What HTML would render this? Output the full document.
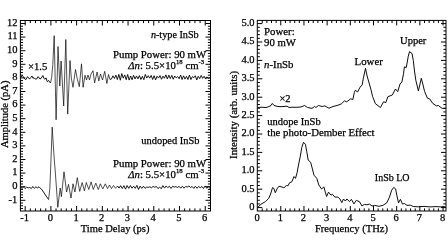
<!DOCTYPE html>
<html><head><meta charset="utf-8"><title>InSb coherent phonon plots</title>
<style>
html,body{margin:0;padding:0;background:#fff;}
body{width:448px;height:252px;overflow:hidden;}
svg{display:block;}
</style></head><body>
<svg width="448" height="252" viewBox="0 0 448 252">
<rect x="0" y="0" width="448" height="252" fill="#fff"/>
<g stroke="#000" fill="none" shape-rendering="auto">
<rect x="20.4" y="20.5" width="190.1" height="190.5" stroke-width="1"/>
<line x1="25.18" y1="211.00" x2="25.18" y2="206.00" stroke-width="1"/>
<line x1="25.18" y1="20.50" x2="25.18" y2="25.50" stroke-width="1"/>
<line x1="30.32" y1="211.00" x2="30.32" y2="208.40" stroke-width="1"/>
<line x1="30.32" y1="20.50" x2="30.32" y2="23.10" stroke-width="1"/>
<line x1="35.47" y1="211.00" x2="35.47" y2="208.40" stroke-width="1"/>
<line x1="35.47" y1="20.50" x2="35.47" y2="23.10" stroke-width="1"/>
<line x1="40.61" y1="211.00" x2="40.61" y2="208.40" stroke-width="1"/>
<line x1="40.61" y1="20.50" x2="40.61" y2="23.10" stroke-width="1"/>
<line x1="45.76" y1="211.00" x2="45.76" y2="208.40" stroke-width="1"/>
<line x1="45.76" y1="20.50" x2="45.76" y2="23.10" stroke-width="1"/>
<line x1="50.90" y1="211.00" x2="50.90" y2="206.00" stroke-width="1"/>
<line x1="50.90" y1="20.50" x2="50.90" y2="25.50" stroke-width="1"/>
<line x1="56.04" y1="211.00" x2="56.04" y2="208.40" stroke-width="1"/>
<line x1="56.04" y1="20.50" x2="56.04" y2="23.10" stroke-width="1"/>
<line x1="61.19" y1="211.00" x2="61.19" y2="208.40" stroke-width="1"/>
<line x1="61.19" y1="20.50" x2="61.19" y2="23.10" stroke-width="1"/>
<line x1="66.33" y1="211.00" x2="66.33" y2="208.40" stroke-width="1"/>
<line x1="66.33" y1="20.50" x2="66.33" y2="23.10" stroke-width="1"/>
<line x1="71.48" y1="211.00" x2="71.48" y2="208.40" stroke-width="1"/>
<line x1="71.48" y1="20.50" x2="71.48" y2="23.10" stroke-width="1"/>
<line x1="76.62" y1="211.00" x2="76.62" y2="206.00" stroke-width="1"/>
<line x1="76.62" y1="20.50" x2="76.62" y2="25.50" stroke-width="1"/>
<line x1="81.76" y1="211.00" x2="81.76" y2="208.40" stroke-width="1"/>
<line x1="81.76" y1="20.50" x2="81.76" y2="23.10" stroke-width="1"/>
<line x1="86.91" y1="211.00" x2="86.91" y2="208.40" stroke-width="1"/>
<line x1="86.91" y1="20.50" x2="86.91" y2="23.10" stroke-width="1"/>
<line x1="92.05" y1="211.00" x2="92.05" y2="208.40" stroke-width="1"/>
<line x1="92.05" y1="20.50" x2="92.05" y2="23.10" stroke-width="1"/>
<line x1="97.20" y1="211.00" x2="97.20" y2="208.40" stroke-width="1"/>
<line x1="97.20" y1="20.50" x2="97.20" y2="23.10" stroke-width="1"/>
<line x1="102.34" y1="211.00" x2="102.34" y2="206.00" stroke-width="1"/>
<line x1="102.34" y1="20.50" x2="102.34" y2="25.50" stroke-width="1"/>
<line x1="107.48" y1="211.00" x2="107.48" y2="208.40" stroke-width="1"/>
<line x1="107.48" y1="20.50" x2="107.48" y2="23.10" stroke-width="1"/>
<line x1="112.63" y1="211.00" x2="112.63" y2="208.40" stroke-width="1"/>
<line x1="112.63" y1="20.50" x2="112.63" y2="23.10" stroke-width="1"/>
<line x1="117.77" y1="211.00" x2="117.77" y2="208.40" stroke-width="1"/>
<line x1="117.77" y1="20.50" x2="117.77" y2="23.10" stroke-width="1"/>
<line x1="122.92" y1="211.00" x2="122.92" y2="208.40" stroke-width="1"/>
<line x1="122.92" y1="20.50" x2="122.92" y2="23.10" stroke-width="1"/>
<line x1="128.06" y1="211.00" x2="128.06" y2="206.00" stroke-width="1"/>
<line x1="128.06" y1="20.50" x2="128.06" y2="25.50" stroke-width="1"/>
<line x1="133.20" y1="211.00" x2="133.20" y2="208.40" stroke-width="1"/>
<line x1="133.20" y1="20.50" x2="133.20" y2="23.10" stroke-width="1"/>
<line x1="138.35" y1="211.00" x2="138.35" y2="208.40" stroke-width="1"/>
<line x1="138.35" y1="20.50" x2="138.35" y2="23.10" stroke-width="1"/>
<line x1="143.49" y1="211.00" x2="143.49" y2="208.40" stroke-width="1"/>
<line x1="143.49" y1="20.50" x2="143.49" y2="23.10" stroke-width="1"/>
<line x1="148.64" y1="211.00" x2="148.64" y2="208.40" stroke-width="1"/>
<line x1="148.64" y1="20.50" x2="148.64" y2="23.10" stroke-width="1"/>
<line x1="153.78" y1="211.00" x2="153.78" y2="206.00" stroke-width="1"/>
<line x1="153.78" y1="20.50" x2="153.78" y2="25.50" stroke-width="1"/>
<line x1="158.92" y1="211.00" x2="158.92" y2="208.40" stroke-width="1"/>
<line x1="158.92" y1="20.50" x2="158.92" y2="23.10" stroke-width="1"/>
<line x1="164.07" y1="211.00" x2="164.07" y2="208.40" stroke-width="1"/>
<line x1="164.07" y1="20.50" x2="164.07" y2="23.10" stroke-width="1"/>
<line x1="169.21" y1="211.00" x2="169.21" y2="208.40" stroke-width="1"/>
<line x1="169.21" y1="20.50" x2="169.21" y2="23.10" stroke-width="1"/>
<line x1="174.36" y1="211.00" x2="174.36" y2="208.40" stroke-width="1"/>
<line x1="174.36" y1="20.50" x2="174.36" y2="23.10" stroke-width="1"/>
<line x1="179.50" y1="211.00" x2="179.50" y2="206.00" stroke-width="1"/>
<line x1="179.50" y1="20.50" x2="179.50" y2="25.50" stroke-width="1"/>
<line x1="184.64" y1="211.00" x2="184.64" y2="208.40" stroke-width="1"/>
<line x1="184.64" y1="20.50" x2="184.64" y2="23.10" stroke-width="1"/>
<line x1="189.79" y1="211.00" x2="189.79" y2="208.40" stroke-width="1"/>
<line x1="189.79" y1="20.50" x2="189.79" y2="23.10" stroke-width="1"/>
<line x1="194.93" y1="211.00" x2="194.93" y2="208.40" stroke-width="1"/>
<line x1="194.93" y1="20.50" x2="194.93" y2="23.10" stroke-width="1"/>
<line x1="200.08" y1="211.00" x2="200.08" y2="208.40" stroke-width="1"/>
<line x1="200.08" y1="20.50" x2="200.08" y2="23.10" stroke-width="1"/>
<line x1="205.22" y1="211.00" x2="205.22" y2="206.00" stroke-width="1"/>
<line x1="205.22" y1="20.50" x2="205.22" y2="25.50" stroke-width="1"/>
<line x1="20.40" y1="208.46" x2="23.00" y2="208.46" stroke-width="1"/>
<line x1="210.50" y1="208.46" x2="207.90" y2="208.46" stroke-width="1"/>
<line x1="20.40" y1="205.74" x2="23.00" y2="205.74" stroke-width="1"/>
<line x1="210.50" y1="205.74" x2="207.90" y2="205.74" stroke-width="1"/>
<line x1="20.40" y1="203.02" x2="23.00" y2="203.02" stroke-width="1"/>
<line x1="210.50" y1="203.02" x2="207.90" y2="203.02" stroke-width="1"/>
<line x1="20.40" y1="200.30" x2="25.40" y2="200.30" stroke-width="1"/>
<line x1="210.50" y1="200.30" x2="205.50" y2="200.30" stroke-width="1"/>
<line x1="20.40" y1="197.58" x2="23.00" y2="197.58" stroke-width="1"/>
<line x1="210.50" y1="197.58" x2="207.90" y2="197.58" stroke-width="1"/>
<line x1="20.40" y1="194.86" x2="23.00" y2="194.86" stroke-width="1"/>
<line x1="210.50" y1="194.86" x2="207.90" y2="194.86" stroke-width="1"/>
<line x1="20.40" y1="192.14" x2="23.00" y2="192.14" stroke-width="1"/>
<line x1="210.50" y1="192.14" x2="207.90" y2="192.14" stroke-width="1"/>
<line x1="20.40" y1="189.42" x2="23.00" y2="189.42" stroke-width="1"/>
<line x1="210.50" y1="189.42" x2="207.90" y2="189.42" stroke-width="1"/>
<line x1="20.40" y1="186.70" x2="25.40" y2="186.70" stroke-width="1"/>
<line x1="210.50" y1="186.70" x2="205.50" y2="186.70" stroke-width="1"/>
<line x1="20.40" y1="183.98" x2="23.00" y2="183.98" stroke-width="1"/>
<line x1="210.50" y1="183.98" x2="207.90" y2="183.98" stroke-width="1"/>
<line x1="20.40" y1="181.26" x2="23.00" y2="181.26" stroke-width="1"/>
<line x1="210.50" y1="181.26" x2="207.90" y2="181.26" stroke-width="1"/>
<line x1="20.40" y1="178.54" x2="23.00" y2="178.54" stroke-width="1"/>
<line x1="210.50" y1="178.54" x2="207.90" y2="178.54" stroke-width="1"/>
<line x1="20.40" y1="175.82" x2="23.00" y2="175.82" stroke-width="1"/>
<line x1="210.50" y1="175.82" x2="207.90" y2="175.82" stroke-width="1"/>
<line x1="20.40" y1="173.10" x2="25.40" y2="173.10" stroke-width="1"/>
<line x1="210.50" y1="173.10" x2="205.50" y2="173.10" stroke-width="1"/>
<line x1="20.40" y1="170.38" x2="23.00" y2="170.38" stroke-width="1"/>
<line x1="210.50" y1="170.38" x2="207.90" y2="170.38" stroke-width="1"/>
<line x1="20.40" y1="167.66" x2="23.00" y2="167.66" stroke-width="1"/>
<line x1="210.50" y1="167.66" x2="207.90" y2="167.66" stroke-width="1"/>
<line x1="20.40" y1="164.94" x2="23.00" y2="164.94" stroke-width="1"/>
<line x1="210.50" y1="164.94" x2="207.90" y2="164.94" stroke-width="1"/>
<line x1="20.40" y1="162.22" x2="23.00" y2="162.22" stroke-width="1"/>
<line x1="210.50" y1="162.22" x2="207.90" y2="162.22" stroke-width="1"/>
<line x1="20.40" y1="159.50" x2="25.40" y2="159.50" stroke-width="1"/>
<line x1="210.50" y1="159.50" x2="205.50" y2="159.50" stroke-width="1"/>
<line x1="20.40" y1="156.78" x2="23.00" y2="156.78" stroke-width="1"/>
<line x1="210.50" y1="156.78" x2="207.90" y2="156.78" stroke-width="1"/>
<line x1="20.40" y1="154.06" x2="23.00" y2="154.06" stroke-width="1"/>
<line x1="210.50" y1="154.06" x2="207.90" y2="154.06" stroke-width="1"/>
<line x1="20.40" y1="151.34" x2="23.00" y2="151.34" stroke-width="1"/>
<line x1="210.50" y1="151.34" x2="207.90" y2="151.34" stroke-width="1"/>
<line x1="20.40" y1="148.62" x2="23.00" y2="148.62" stroke-width="1"/>
<line x1="210.50" y1="148.62" x2="207.90" y2="148.62" stroke-width="1"/>
<line x1="20.40" y1="145.90" x2="25.40" y2="145.90" stroke-width="1"/>
<line x1="210.50" y1="145.90" x2="205.50" y2="145.90" stroke-width="1"/>
<line x1="20.40" y1="143.18" x2="23.00" y2="143.18" stroke-width="1"/>
<line x1="210.50" y1="143.18" x2="207.90" y2="143.18" stroke-width="1"/>
<line x1="20.40" y1="140.46" x2="23.00" y2="140.46" stroke-width="1"/>
<line x1="210.50" y1="140.46" x2="207.90" y2="140.46" stroke-width="1"/>
<line x1="20.40" y1="137.74" x2="23.00" y2="137.74" stroke-width="1"/>
<line x1="210.50" y1="137.74" x2="207.90" y2="137.74" stroke-width="1"/>
<line x1="20.40" y1="135.02" x2="23.00" y2="135.02" stroke-width="1"/>
<line x1="210.50" y1="135.02" x2="207.90" y2="135.02" stroke-width="1"/>
<line x1="20.40" y1="132.30" x2="25.40" y2="132.30" stroke-width="1"/>
<line x1="210.50" y1="132.30" x2="205.50" y2="132.30" stroke-width="1"/>
<line x1="20.40" y1="129.58" x2="23.00" y2="129.58" stroke-width="1"/>
<line x1="210.50" y1="129.58" x2="207.90" y2="129.58" stroke-width="1"/>
<line x1="20.40" y1="126.86" x2="23.00" y2="126.86" stroke-width="1"/>
<line x1="210.50" y1="126.86" x2="207.90" y2="126.86" stroke-width="1"/>
<line x1="20.40" y1="124.14" x2="23.00" y2="124.14" stroke-width="1"/>
<line x1="210.50" y1="124.14" x2="207.90" y2="124.14" stroke-width="1"/>
<line x1="20.40" y1="121.42" x2="23.00" y2="121.42" stroke-width="1"/>
<line x1="210.50" y1="121.42" x2="207.90" y2="121.42" stroke-width="1"/>
<line x1="20.40" y1="118.70" x2="25.40" y2="118.70" stroke-width="1"/>
<line x1="210.50" y1="118.70" x2="205.50" y2="118.70" stroke-width="1"/>
<line x1="20.40" y1="115.98" x2="23.00" y2="115.98" stroke-width="1"/>
<line x1="210.50" y1="115.98" x2="207.90" y2="115.98" stroke-width="1"/>
<line x1="20.40" y1="113.26" x2="23.00" y2="113.26" stroke-width="1"/>
<line x1="210.50" y1="113.26" x2="207.90" y2="113.26" stroke-width="1"/>
<line x1="20.40" y1="110.54" x2="23.00" y2="110.54" stroke-width="1"/>
<line x1="210.50" y1="110.54" x2="207.90" y2="110.54" stroke-width="1"/>
<line x1="20.40" y1="107.82" x2="23.00" y2="107.82" stroke-width="1"/>
<line x1="210.50" y1="107.82" x2="207.90" y2="107.82" stroke-width="1"/>
<line x1="20.40" y1="105.10" x2="25.40" y2="105.10" stroke-width="1"/>
<line x1="210.50" y1="105.10" x2="205.50" y2="105.10" stroke-width="1"/>
<line x1="20.40" y1="102.38" x2="23.00" y2="102.38" stroke-width="1"/>
<line x1="210.50" y1="102.38" x2="207.90" y2="102.38" stroke-width="1"/>
<line x1="20.40" y1="99.66" x2="23.00" y2="99.66" stroke-width="1"/>
<line x1="210.50" y1="99.66" x2="207.90" y2="99.66" stroke-width="1"/>
<line x1="20.40" y1="96.94" x2="23.00" y2="96.94" stroke-width="1"/>
<line x1="210.50" y1="96.94" x2="207.90" y2="96.94" stroke-width="1"/>
<line x1="20.40" y1="94.22" x2="23.00" y2="94.22" stroke-width="1"/>
<line x1="210.50" y1="94.22" x2="207.90" y2="94.22" stroke-width="1"/>
<line x1="20.40" y1="91.50" x2="25.40" y2="91.50" stroke-width="1"/>
<line x1="210.50" y1="91.50" x2="205.50" y2="91.50" stroke-width="1"/>
<line x1="20.40" y1="88.78" x2="23.00" y2="88.78" stroke-width="1"/>
<line x1="210.50" y1="88.78" x2="207.90" y2="88.78" stroke-width="1"/>
<line x1="20.40" y1="86.06" x2="23.00" y2="86.06" stroke-width="1"/>
<line x1="210.50" y1="86.06" x2="207.90" y2="86.06" stroke-width="1"/>
<line x1="20.40" y1="83.34" x2="23.00" y2="83.34" stroke-width="1"/>
<line x1="210.50" y1="83.34" x2="207.90" y2="83.34" stroke-width="1"/>
<line x1="20.40" y1="80.62" x2="23.00" y2="80.62" stroke-width="1"/>
<line x1="210.50" y1="80.62" x2="207.90" y2="80.62" stroke-width="1"/>
<line x1="20.40" y1="77.90" x2="25.40" y2="77.90" stroke-width="1"/>
<line x1="210.50" y1="77.90" x2="205.50" y2="77.90" stroke-width="1"/>
<line x1="20.40" y1="75.18" x2="23.00" y2="75.18" stroke-width="1"/>
<line x1="210.50" y1="75.18" x2="207.90" y2="75.18" stroke-width="1"/>
<line x1="20.40" y1="72.46" x2="23.00" y2="72.46" stroke-width="1"/>
<line x1="210.50" y1="72.46" x2="207.90" y2="72.46" stroke-width="1"/>
<line x1="20.40" y1="69.74" x2="23.00" y2="69.74" stroke-width="1"/>
<line x1="210.50" y1="69.74" x2="207.90" y2="69.74" stroke-width="1"/>
<line x1="20.40" y1="67.02" x2="23.00" y2="67.02" stroke-width="1"/>
<line x1="210.50" y1="67.02" x2="207.90" y2="67.02" stroke-width="1"/>
<line x1="20.40" y1="64.30" x2="25.40" y2="64.30" stroke-width="1"/>
<line x1="210.50" y1="64.30" x2="205.50" y2="64.30" stroke-width="1"/>
<line x1="20.40" y1="61.58" x2="23.00" y2="61.58" stroke-width="1"/>
<line x1="210.50" y1="61.58" x2="207.90" y2="61.58" stroke-width="1"/>
<line x1="20.40" y1="58.86" x2="23.00" y2="58.86" stroke-width="1"/>
<line x1="210.50" y1="58.86" x2="207.90" y2="58.86" stroke-width="1"/>
<line x1="20.40" y1="56.14" x2="23.00" y2="56.14" stroke-width="1"/>
<line x1="210.50" y1="56.14" x2="207.90" y2="56.14" stroke-width="1"/>
<line x1="20.40" y1="53.42" x2="23.00" y2="53.42" stroke-width="1"/>
<line x1="210.50" y1="53.42" x2="207.90" y2="53.42" stroke-width="1"/>
<line x1="20.40" y1="50.70" x2="25.40" y2="50.70" stroke-width="1"/>
<line x1="210.50" y1="50.70" x2="205.50" y2="50.70" stroke-width="1"/>
<line x1="20.40" y1="47.98" x2="23.00" y2="47.98" stroke-width="1"/>
<line x1="210.50" y1="47.98" x2="207.90" y2="47.98" stroke-width="1"/>
<line x1="20.40" y1="45.26" x2="23.00" y2="45.26" stroke-width="1"/>
<line x1="210.50" y1="45.26" x2="207.90" y2="45.26" stroke-width="1"/>
<line x1="20.40" y1="42.54" x2="23.00" y2="42.54" stroke-width="1"/>
<line x1="210.50" y1="42.54" x2="207.90" y2="42.54" stroke-width="1"/>
<line x1="20.40" y1="39.82" x2="23.00" y2="39.82" stroke-width="1"/>
<line x1="210.50" y1="39.82" x2="207.90" y2="39.82" stroke-width="1"/>
<line x1="20.40" y1="37.10" x2="25.40" y2="37.10" stroke-width="1"/>
<line x1="210.50" y1="37.10" x2="205.50" y2="37.10" stroke-width="1"/>
<line x1="20.40" y1="34.38" x2="23.00" y2="34.38" stroke-width="1"/>
<line x1="210.50" y1="34.38" x2="207.90" y2="34.38" stroke-width="1"/>
<line x1="20.40" y1="31.66" x2="23.00" y2="31.66" stroke-width="1"/>
<line x1="210.50" y1="31.66" x2="207.90" y2="31.66" stroke-width="1"/>
<line x1="20.40" y1="28.94" x2="23.00" y2="28.94" stroke-width="1"/>
<line x1="210.50" y1="28.94" x2="207.90" y2="28.94" stroke-width="1"/>
<line x1="20.40" y1="26.22" x2="23.00" y2="26.22" stroke-width="1"/>
<line x1="210.50" y1="26.22" x2="207.90" y2="26.22" stroke-width="1"/>
<line x1="20.40" y1="23.50" x2="25.40" y2="23.50" stroke-width="1"/>
<line x1="210.50" y1="23.50" x2="205.50" y2="23.50" stroke-width="1"/>
</g>
<g stroke="#000" fill="none">
<rect x="257.3" y="20.4" width="188.7" height="190.6" stroke-width="1"/>
<line x1="262.24" y1="211.00" x2="262.24" y2="208.40" stroke-width="1"/>
<line x1="262.24" y1="20.40" x2="262.24" y2="23.00" stroke-width="1"/>
<line x1="266.87" y1="211.00" x2="266.87" y2="208.40" stroke-width="1"/>
<line x1="266.87" y1="20.40" x2="266.87" y2="23.00" stroke-width="1"/>
<line x1="271.51" y1="211.00" x2="271.51" y2="208.40" stroke-width="1"/>
<line x1="271.51" y1="20.40" x2="271.51" y2="23.00" stroke-width="1"/>
<line x1="276.14" y1="211.00" x2="276.14" y2="208.40" stroke-width="1"/>
<line x1="276.14" y1="20.40" x2="276.14" y2="23.00" stroke-width="1"/>
<line x1="280.78" y1="211.00" x2="280.78" y2="206.00" stroke-width="1"/>
<line x1="280.78" y1="20.40" x2="280.78" y2="25.40" stroke-width="1"/>
<line x1="285.42" y1="211.00" x2="285.42" y2="208.40" stroke-width="1"/>
<line x1="285.42" y1="20.40" x2="285.42" y2="23.00" stroke-width="1"/>
<line x1="290.05" y1="211.00" x2="290.05" y2="208.40" stroke-width="1"/>
<line x1="290.05" y1="20.40" x2="290.05" y2="23.00" stroke-width="1"/>
<line x1="294.69" y1="211.00" x2="294.69" y2="208.40" stroke-width="1"/>
<line x1="294.69" y1="20.40" x2="294.69" y2="23.00" stroke-width="1"/>
<line x1="299.32" y1="211.00" x2="299.32" y2="208.40" stroke-width="1"/>
<line x1="299.32" y1="20.40" x2="299.32" y2="23.00" stroke-width="1"/>
<line x1="303.96" y1="211.00" x2="303.96" y2="206.00" stroke-width="1"/>
<line x1="303.96" y1="20.40" x2="303.96" y2="25.40" stroke-width="1"/>
<line x1="308.60" y1="211.00" x2="308.60" y2="208.40" stroke-width="1"/>
<line x1="308.60" y1="20.40" x2="308.60" y2="23.00" stroke-width="1"/>
<line x1="313.23" y1="211.00" x2="313.23" y2="208.40" stroke-width="1"/>
<line x1="313.23" y1="20.40" x2="313.23" y2="23.00" stroke-width="1"/>
<line x1="317.87" y1="211.00" x2="317.87" y2="208.40" stroke-width="1"/>
<line x1="317.87" y1="20.40" x2="317.87" y2="23.00" stroke-width="1"/>
<line x1="322.50" y1="211.00" x2="322.50" y2="208.40" stroke-width="1"/>
<line x1="322.50" y1="20.40" x2="322.50" y2="23.00" stroke-width="1"/>
<line x1="327.14" y1="211.00" x2="327.14" y2="206.00" stroke-width="1"/>
<line x1="327.14" y1="20.40" x2="327.14" y2="25.40" stroke-width="1"/>
<line x1="331.78" y1="211.00" x2="331.78" y2="208.40" stroke-width="1"/>
<line x1="331.78" y1="20.40" x2="331.78" y2="23.00" stroke-width="1"/>
<line x1="336.41" y1="211.00" x2="336.41" y2="208.40" stroke-width="1"/>
<line x1="336.41" y1="20.40" x2="336.41" y2="23.00" stroke-width="1"/>
<line x1="341.05" y1="211.00" x2="341.05" y2="208.40" stroke-width="1"/>
<line x1="341.05" y1="20.40" x2="341.05" y2="23.00" stroke-width="1"/>
<line x1="345.68" y1="211.00" x2="345.68" y2="208.40" stroke-width="1"/>
<line x1="345.68" y1="20.40" x2="345.68" y2="23.00" stroke-width="1"/>
<line x1="350.32" y1="211.00" x2="350.32" y2="206.00" stroke-width="1"/>
<line x1="350.32" y1="20.40" x2="350.32" y2="25.40" stroke-width="1"/>
<line x1="354.96" y1="211.00" x2="354.96" y2="208.40" stroke-width="1"/>
<line x1="354.96" y1="20.40" x2="354.96" y2="23.00" stroke-width="1"/>
<line x1="359.59" y1="211.00" x2="359.59" y2="208.40" stroke-width="1"/>
<line x1="359.59" y1="20.40" x2="359.59" y2="23.00" stroke-width="1"/>
<line x1="364.23" y1="211.00" x2="364.23" y2="208.40" stroke-width="1"/>
<line x1="364.23" y1="20.40" x2="364.23" y2="23.00" stroke-width="1"/>
<line x1="368.86" y1="211.00" x2="368.86" y2="208.40" stroke-width="1"/>
<line x1="368.86" y1="20.40" x2="368.86" y2="23.00" stroke-width="1"/>
<line x1="373.50" y1="211.00" x2="373.50" y2="206.00" stroke-width="1"/>
<line x1="373.50" y1="20.40" x2="373.50" y2="25.40" stroke-width="1"/>
<line x1="378.14" y1="211.00" x2="378.14" y2="208.40" stroke-width="1"/>
<line x1="378.14" y1="20.40" x2="378.14" y2="23.00" stroke-width="1"/>
<line x1="382.77" y1="211.00" x2="382.77" y2="208.40" stroke-width="1"/>
<line x1="382.77" y1="20.40" x2="382.77" y2="23.00" stroke-width="1"/>
<line x1="387.41" y1="211.00" x2="387.41" y2="208.40" stroke-width="1"/>
<line x1="387.41" y1="20.40" x2="387.41" y2="23.00" stroke-width="1"/>
<line x1="392.04" y1="211.00" x2="392.04" y2="208.40" stroke-width="1"/>
<line x1="392.04" y1="20.40" x2="392.04" y2="23.00" stroke-width="1"/>
<line x1="396.68" y1="211.00" x2="396.68" y2="206.00" stroke-width="1"/>
<line x1="396.68" y1="20.40" x2="396.68" y2="25.40" stroke-width="1"/>
<line x1="401.32" y1="211.00" x2="401.32" y2="208.40" stroke-width="1"/>
<line x1="401.32" y1="20.40" x2="401.32" y2="23.00" stroke-width="1"/>
<line x1="405.95" y1="211.00" x2="405.95" y2="208.40" stroke-width="1"/>
<line x1="405.95" y1="20.40" x2="405.95" y2="23.00" stroke-width="1"/>
<line x1="410.59" y1="211.00" x2="410.59" y2="208.40" stroke-width="1"/>
<line x1="410.59" y1="20.40" x2="410.59" y2="23.00" stroke-width="1"/>
<line x1="415.22" y1="211.00" x2="415.22" y2="208.40" stroke-width="1"/>
<line x1="415.22" y1="20.40" x2="415.22" y2="23.00" stroke-width="1"/>
<line x1="419.86" y1="211.00" x2="419.86" y2="206.00" stroke-width="1"/>
<line x1="419.86" y1="20.40" x2="419.86" y2="25.40" stroke-width="1"/>
<line x1="424.50" y1="211.00" x2="424.50" y2="208.40" stroke-width="1"/>
<line x1="424.50" y1="20.40" x2="424.50" y2="23.00" stroke-width="1"/>
<line x1="429.13" y1="211.00" x2="429.13" y2="208.40" stroke-width="1"/>
<line x1="429.13" y1="20.40" x2="429.13" y2="23.00" stroke-width="1"/>
<line x1="433.77" y1="211.00" x2="433.77" y2="208.40" stroke-width="1"/>
<line x1="433.77" y1="20.40" x2="433.77" y2="23.00" stroke-width="1"/>
<line x1="438.40" y1="211.00" x2="438.40" y2="208.40" stroke-width="1"/>
<line x1="438.40" y1="20.40" x2="438.40" y2="23.00" stroke-width="1"/>
<line x1="443.04" y1="211.00" x2="443.04" y2="206.00" stroke-width="1"/>
<line x1="443.04" y1="20.40" x2="443.04" y2="25.40" stroke-width="1"/>
<line x1="257.30" y1="207.60" x2="262.30" y2="207.60" stroke-width="1"/>
<line x1="446.00" y1="207.60" x2="441.00" y2="207.60" stroke-width="1"/>
<line x1="257.30" y1="203.92" x2="259.90" y2="203.92" stroke-width="1"/>
<line x1="446.00" y1="203.92" x2="443.40" y2="203.92" stroke-width="1"/>
<line x1="257.30" y1="200.24" x2="259.90" y2="200.24" stroke-width="1"/>
<line x1="446.00" y1="200.24" x2="443.40" y2="200.24" stroke-width="1"/>
<line x1="257.30" y1="196.56" x2="259.90" y2="196.56" stroke-width="1"/>
<line x1="446.00" y1="196.56" x2="443.40" y2="196.56" stroke-width="1"/>
<line x1="257.30" y1="192.88" x2="259.90" y2="192.88" stroke-width="1"/>
<line x1="446.00" y1="192.88" x2="443.40" y2="192.88" stroke-width="1"/>
<line x1="257.30" y1="189.20" x2="262.30" y2="189.20" stroke-width="1"/>
<line x1="446.00" y1="189.20" x2="441.00" y2="189.20" stroke-width="1"/>
<line x1="257.30" y1="185.52" x2="259.90" y2="185.52" stroke-width="1"/>
<line x1="446.00" y1="185.52" x2="443.40" y2="185.52" stroke-width="1"/>
<line x1="257.30" y1="181.84" x2="259.90" y2="181.84" stroke-width="1"/>
<line x1="446.00" y1="181.84" x2="443.40" y2="181.84" stroke-width="1"/>
<line x1="257.30" y1="178.16" x2="259.90" y2="178.16" stroke-width="1"/>
<line x1="446.00" y1="178.16" x2="443.40" y2="178.16" stroke-width="1"/>
<line x1="257.30" y1="174.48" x2="259.90" y2="174.48" stroke-width="1"/>
<line x1="446.00" y1="174.48" x2="443.40" y2="174.48" stroke-width="1"/>
<line x1="257.30" y1="170.80" x2="262.30" y2="170.80" stroke-width="1"/>
<line x1="446.00" y1="170.80" x2="441.00" y2="170.80" stroke-width="1"/>
<line x1="257.30" y1="167.12" x2="259.90" y2="167.12" stroke-width="1"/>
<line x1="446.00" y1="167.12" x2="443.40" y2="167.12" stroke-width="1"/>
<line x1="257.30" y1="163.44" x2="259.90" y2="163.44" stroke-width="1"/>
<line x1="446.00" y1="163.44" x2="443.40" y2="163.44" stroke-width="1"/>
<line x1="257.30" y1="159.76" x2="259.90" y2="159.76" stroke-width="1"/>
<line x1="446.00" y1="159.76" x2="443.40" y2="159.76" stroke-width="1"/>
<line x1="257.30" y1="156.08" x2="259.90" y2="156.08" stroke-width="1"/>
<line x1="446.00" y1="156.08" x2="443.40" y2="156.08" stroke-width="1"/>
<line x1="257.30" y1="152.40" x2="262.30" y2="152.40" stroke-width="1"/>
<line x1="446.00" y1="152.40" x2="441.00" y2="152.40" stroke-width="1"/>
<line x1="257.30" y1="148.72" x2="259.90" y2="148.72" stroke-width="1"/>
<line x1="446.00" y1="148.72" x2="443.40" y2="148.72" stroke-width="1"/>
<line x1="257.30" y1="145.04" x2="259.90" y2="145.04" stroke-width="1"/>
<line x1="446.00" y1="145.04" x2="443.40" y2="145.04" stroke-width="1"/>
<line x1="257.30" y1="141.36" x2="259.90" y2="141.36" stroke-width="1"/>
<line x1="446.00" y1="141.36" x2="443.40" y2="141.36" stroke-width="1"/>
<line x1="257.30" y1="137.68" x2="259.90" y2="137.68" stroke-width="1"/>
<line x1="446.00" y1="137.68" x2="443.40" y2="137.68" stroke-width="1"/>
<line x1="257.30" y1="134.00" x2="262.30" y2="134.00" stroke-width="1"/>
<line x1="446.00" y1="134.00" x2="441.00" y2="134.00" stroke-width="1"/>
<line x1="257.30" y1="130.32" x2="259.90" y2="130.32" stroke-width="1"/>
<line x1="446.00" y1="130.32" x2="443.40" y2="130.32" stroke-width="1"/>
<line x1="257.30" y1="126.64" x2="259.90" y2="126.64" stroke-width="1"/>
<line x1="446.00" y1="126.64" x2="443.40" y2="126.64" stroke-width="1"/>
<line x1="257.30" y1="122.96" x2="259.90" y2="122.96" stroke-width="1"/>
<line x1="446.00" y1="122.96" x2="443.40" y2="122.96" stroke-width="1"/>
<line x1="257.30" y1="119.28" x2="259.90" y2="119.28" stroke-width="1"/>
<line x1="446.00" y1="119.28" x2="443.40" y2="119.28" stroke-width="1"/>
<line x1="257.30" y1="115.60" x2="262.30" y2="115.60" stroke-width="1"/>
<line x1="446.00" y1="115.60" x2="441.00" y2="115.60" stroke-width="1"/>
<line x1="257.30" y1="111.92" x2="259.90" y2="111.92" stroke-width="1"/>
<line x1="446.00" y1="111.92" x2="443.40" y2="111.92" stroke-width="1"/>
<line x1="257.30" y1="108.24" x2="259.90" y2="108.24" stroke-width="1"/>
<line x1="446.00" y1="108.24" x2="443.40" y2="108.24" stroke-width="1"/>
<line x1="257.30" y1="104.56" x2="259.90" y2="104.56" stroke-width="1"/>
<line x1="446.00" y1="104.56" x2="443.40" y2="104.56" stroke-width="1"/>
<line x1="257.30" y1="100.88" x2="259.90" y2="100.88" stroke-width="1"/>
<line x1="446.00" y1="100.88" x2="443.40" y2="100.88" stroke-width="1"/>
<line x1="257.30" y1="97.20" x2="262.30" y2="97.20" stroke-width="1"/>
<line x1="446.00" y1="97.20" x2="441.00" y2="97.20" stroke-width="1"/>
<line x1="257.30" y1="93.52" x2="259.90" y2="93.52" stroke-width="1"/>
<line x1="446.00" y1="93.52" x2="443.40" y2="93.52" stroke-width="1"/>
<line x1="257.30" y1="89.84" x2="259.90" y2="89.84" stroke-width="1"/>
<line x1="446.00" y1="89.84" x2="443.40" y2="89.84" stroke-width="1"/>
<line x1="257.30" y1="86.16" x2="259.90" y2="86.16" stroke-width="1"/>
<line x1="446.00" y1="86.16" x2="443.40" y2="86.16" stroke-width="1"/>
<line x1="257.30" y1="82.48" x2="259.90" y2="82.48" stroke-width="1"/>
<line x1="446.00" y1="82.48" x2="443.40" y2="82.48" stroke-width="1"/>
<line x1="257.30" y1="78.80" x2="262.30" y2="78.80" stroke-width="1"/>
<line x1="446.00" y1="78.80" x2="441.00" y2="78.80" stroke-width="1"/>
<line x1="257.30" y1="75.12" x2="259.90" y2="75.12" stroke-width="1"/>
<line x1="446.00" y1="75.12" x2="443.40" y2="75.12" stroke-width="1"/>
<line x1="257.30" y1="71.44" x2="259.90" y2="71.44" stroke-width="1"/>
<line x1="446.00" y1="71.44" x2="443.40" y2="71.44" stroke-width="1"/>
<line x1="257.30" y1="67.76" x2="259.90" y2="67.76" stroke-width="1"/>
<line x1="446.00" y1="67.76" x2="443.40" y2="67.76" stroke-width="1"/>
<line x1="257.30" y1="64.08" x2="259.90" y2="64.08" stroke-width="1"/>
<line x1="446.00" y1="64.08" x2="443.40" y2="64.08" stroke-width="1"/>
<line x1="257.30" y1="60.40" x2="262.30" y2="60.40" stroke-width="1"/>
<line x1="446.00" y1="60.40" x2="441.00" y2="60.40" stroke-width="1"/>
<line x1="257.30" y1="56.72" x2="259.90" y2="56.72" stroke-width="1"/>
<line x1="446.00" y1="56.72" x2="443.40" y2="56.72" stroke-width="1"/>
<line x1="257.30" y1="53.04" x2="259.90" y2="53.04" stroke-width="1"/>
<line x1="446.00" y1="53.04" x2="443.40" y2="53.04" stroke-width="1"/>
<line x1="257.30" y1="49.36" x2="259.90" y2="49.36" stroke-width="1"/>
<line x1="446.00" y1="49.36" x2="443.40" y2="49.36" stroke-width="1"/>
<line x1="257.30" y1="45.68" x2="259.90" y2="45.68" stroke-width="1"/>
<line x1="446.00" y1="45.68" x2="443.40" y2="45.68" stroke-width="1"/>
<line x1="257.30" y1="42.00" x2="262.30" y2="42.00" stroke-width="1"/>
<line x1="446.00" y1="42.00" x2="441.00" y2="42.00" stroke-width="1"/>
<line x1="257.30" y1="38.32" x2="259.90" y2="38.32" stroke-width="1"/>
<line x1="446.00" y1="38.32" x2="443.40" y2="38.32" stroke-width="1"/>
<line x1="257.30" y1="34.64" x2="259.90" y2="34.64" stroke-width="1"/>
<line x1="446.00" y1="34.64" x2="443.40" y2="34.64" stroke-width="1"/>
<line x1="257.30" y1="30.96" x2="259.90" y2="30.96" stroke-width="1"/>
<line x1="446.00" y1="30.96" x2="443.40" y2="30.96" stroke-width="1"/>
<line x1="257.30" y1="27.28" x2="259.90" y2="27.28" stroke-width="1"/>
<line x1="446.00" y1="27.28" x2="443.40" y2="27.28" stroke-width="1"/>
<line x1="257.30" y1="23.60" x2="262.30" y2="23.60" stroke-width="1"/>
<line x1="446.00" y1="23.60" x2="441.00" y2="23.60" stroke-width="1"/>
</g>
<polyline points="21.00,77.00 22.50,75.60 24.00,78.00 25.70,79.80 27.60,76.60 29.50,79.10 30.80,77.50 32.00,76.00 33.00,78.30 34.00,77.60 35.20,79.00 36.50,79.10 37.80,76.80 39.00,77.40 40.00,79.00 41.00,78.50 42.90,75.50 43.80,78.00 44.80,79.30 46.00,77.90 47.30,81.70 48.60,80.40 49.60,82.00 50.50,83.00" fill="none" stroke="#000" stroke-width="0.9" stroke-linejoin="round"/>
<polyline points="50.50,83.00 51.70,77.20 52.80,64.50 54.20,35.70 56.10,119.80 58.00,46.50 59.80,86.00 61.10,61.00 63.70,106.00 65.80,39.50 67.70,114.10 70.00,60.50 71.30,78.00 73.00,87.30 75.50,69.50 77.30,79.00 79.30,86.70 81.50,63.80 83.10,87.30 85.00,75.20 86.50,80.00 88.00,75.00 89.50,80.00 91.00,74.00 93.00,70.80 94.60,82.90 97.10,72.00 98.80,81.00 100.50,74.00 102.50,80.00 104.70,71.40 106.90,83.50 108.50,74.50 110.00,79.50" fill="none" stroke="#000" stroke-width="0.68" stroke-linejoin="round"/>
<polyline points="110.00,79.50 111.50,78.94 112.97,75.80 114.44,78.45 115.91,75.16 117.38,79.51 118.85,74.38 120.32,80.23 121.79,73.58 123.26,78.19 124.73,74.91 126.20,79.69 127.67,74.47 129.14,80.09 130.61,75.97 132.08,79.75 133.55,75.27 135.02,78.95 136.49,75.95 137.96,78.80 139.43,75.60 140.90,79.49 142.37,76.36 143.84,79.66 145.31,74.42 146.78,78.03 148.25,75.72 149.72,78.12 151.19,75.40 152.66,79.50 154.13,75.75 155.60,79.87 157.07,76.23 158.54,78.08 160.01,75.56 161.49,79.28 162.96,76.15 164.43,78.25 165.90,74.87 167.37,79.01 168.84,75.13 170.31,78.62 171.78,75.42 173.25,79.24 174.72,76.00 176.19,77.84 177.66,76.47 179.13,78.84 180.60,75.03 182.07,79.53 183.54,75.82 185.01,79.12 186.48,76.31 187.95,79.50 189.42,75.03 190.89,79.56 192.36,76.57 193.83,77.72 195.30,75.72 196.77,79.92 198.24,76.32 199.71,78.65 201.18,75.46 202.65,78.35 204.12,76.29 205.59,79.04 207.06,76.89 208.53,78.54 210.00,77.64" fill="none" stroke="#000" stroke-width="0.9" stroke-linejoin="round"/>
<polyline points="20.80,186.80 22.00,188.53 23.55,186.85 25.09,188.57 26.64,187.19 28.18,187.92 29.73,187.41 31.27,188.59 32.82,186.48 34.36,188.30 35.91,186.77 37.45,187.99 39.00,186.75 42.20,190.00 45.40,195.00 48.60,199.50" fill="none" stroke="#000" stroke-width="0.9" stroke-linejoin="round"/>
<polyline points="48.60,199.50 49.80,188.70 50.60,170.00 52.20,127.10 53.30,145.00 54.30,160.00 55.30,172.00 56.30,186.00 57.80,207.30 60.20,188.00 61.40,196.70 64.00,171.80 66.60,192.00 68.50,184.40 71.00,198.00 73.00,183.80 74.90,192.00 77.30,177.70 79.70,191.40 82.20,182.50 84.40,190.80 86.30,182.50 88.80,189.50 91.10,181.90 93.30,189.50 95.80,183.10 98.30,189.50 100.30,183.80 102.80,188.90 105.30,183.80 107.50,188.60 109.50,185.00 111.50,188.50 113.50,185.50 115.50,188.30 117.50,186.00" fill="none" stroke="#000" stroke-width="0.68" stroke-linejoin="round"/>
<polyline points="117.50,186.00 119.00,188.09 120.62,185.62 122.25,188.52 123.88,185.67 125.50,189.14 127.12,185.54 128.75,188.38 130.38,185.50 132.00,188.21 133.62,186.21 135.25,188.38 136.88,185.40 138.50,189.48 140.12,186.16 141.75,188.35 143.38,186.26 145.00,188.34 146.62,187.15 148.25,187.33 149.88,186.84 151.50,187.78 153.12,186.43 154.75,187.24 156.38,186.48 158.00,188.58 159.62,187.04 161.25,188.70 162.88,185.65 164.50,188.08 166.12,185.93 167.75,187.60 169.38,186.26 171.00,188.42 172.62,186.28 174.25,187.09 175.88,186.66 177.50,187.43 179.12,186.38 180.75,188.18 182.38,186.24 184.00,188.18 185.62,186.47 187.25,187.09 188.88,185.94 190.50,187.48 192.12,186.45 193.75,188.38 195.38,186.24 197.00,188.29 198.62,186.43 200.25,187.74 201.88,186.46 203.50,188.51 205.12,185.95 206.75,188.31 208.38,186.43 210.00,188.72" fill="none" stroke="#000" stroke-width="0.9" stroke-linejoin="round"/>
<polyline points="258.00,107.50 262.00,107.20 266.00,107.60 269.00,106.50 271.00,105.50 272.30,103.40 274.00,105.50 277.00,106.30 280.00,106.70 284.00,106.50 287.00,106.20 289.00,107.50 292.00,107.20 296.00,107.30 300.00,107.10 302.00,106.60 304.40,105.50 307.60,107.50 312.00,108.40 314.60,106.50 315.90,107.50 318.40,105.50 322.20,106.50 324.80,105.90 329.00,108.20 333.00,106.50 338.00,105.20 341.30,103.90 344.40,100.90 346.70,101.80 350.70,98.80 352.90,99.50 354.30,92.50 355.30,90.30 357.60,91.90 360.10,87.20 362.20,84.80 363.30,78.50 365.50,68.30 367.10,76.00 369.40,84.00 370.90,89.30 372.60,96.50 375.40,103.70 380.40,107.50 383.60,101.80 385.80,102.60 387.90,96.70 392.30,95.00 395.50,89.00 397.70,91.60 400.00,84.00 401.90,82.00 403.50,73.80 404.40,66.90 406.30,67.50 408.20,56.70 409.50,51.60 412.00,53.50 413.30,60.50 414.50,71.00 415.80,80.20 418.40,91.00 421.30,78.30 422.80,84.00 424.60,91.50 427.40,98.10 429.60,98.80 432.60,103.30 436.40,105.90 438.30,105.50 442.20,108.40 445.50,108.40" fill="none" stroke="#000" stroke-width="0.95" stroke-linejoin="round"/>
<polyline points="257.90,207.30 261.10,204.10 265.50,201.60 268.70,198.40 270.60,194.00 272.50,187.60 273.80,188.30 275.30,192.70 277.00,188.90 278.90,186.30 282.00,187.00 283.90,187.80 286.40,185.50 288.00,185.80 289.60,182.70 291.80,181.80 294.00,176.50 295.50,178.40 297.10,172.70 298.30,166.00 300.30,156.30 301.80,147.40 303.50,142.30 305.40,144.30 306.70,151.20 308.20,160.10 310.60,162.20 312.40,168.90 314.00,175.20 316.80,178.40 318.80,185.00 321.60,189.00 323.90,186.90 325.30,192.10 326.60,196.50 328.50,192.10 331.00,195.20 332.30,194.20 334.90,197.10 338.00,197.10 339.90,199.00 341.80,202.60 343.50,199.00 345.30,201.00 346.90,199.00 349.50,201.60 351.40,199.30 353.90,203.90 356.40,200.30 359.60,201.80 362.00,206.00 364.40,204.40 367.00,204.80 369.50,204.10 372.00,206.00 374.60,205.40 379.00,206.30 382.90,205.40 386.70,202.90 389.20,197.80 391.70,190.20 393.70,187.40 395.60,188.90 396.80,195.20 398.50,202.90 400.40,199.30 402.50,204.10 404.40,203.50 407.00,205.40 410.20,205.10 413.30,206.50 418.00,206.80 424.00,206.40 430.00,206.90 436.00,206.60 441.00,206.90 445.50,206.70" fill="none" stroke="#000" stroke-width="0.95" stroke-linejoin="round"/>
<g font-family='"Liberation Serif","Times New Roman",serif' font-size="10.5" fill="#000" stroke="#000" stroke-width="0.25">
<text x="17.30" y="202.50" text-anchor="end">-1</text>
<text x="17.60" y="188.90" text-anchor="end">0</text>
<text x="17.60" y="175.30" text-anchor="end">1</text>
<text x="17.60" y="161.70" text-anchor="end">2</text>
<text x="17.60" y="148.10" text-anchor="end">3</text>
<text x="17.60" y="134.50" text-anchor="end">4</text>
<text x="17.60" y="120.90" text-anchor="end">5</text>
<text x="17.60" y="107.30" text-anchor="end">6</text>
<text x="17.60" y="93.70" text-anchor="end">7</text>
<text x="17.60" y="80.10" text-anchor="end">8</text>
<text x="17.60" y="66.50" text-anchor="end">9</text>
<text x="17.60" y="52.90" text-anchor="end">10</text>
<text x="17.60" y="39.30" text-anchor="end">11</text>
<text x="17.60" y="25.70" text-anchor="end">12</text>
<text x="24.58" y="220.60" text-anchor="middle">-1</text>
<text x="50.30" y="220.60" text-anchor="middle">0</text>
<text x="76.02" y="220.60" text-anchor="middle">1</text>
<text x="101.74" y="220.60" text-anchor="middle">2</text>
<text x="127.46" y="220.60" text-anchor="middle">3</text>
<text x="153.18" y="220.60" text-anchor="middle">4</text>
<text x="178.90" y="220.60" text-anchor="middle">5</text>
<text x="204.62" y="220.60" text-anchor="middle">6</text>
<text x="115.10" y="231.80" text-anchor="middle" textLength="68.8" lengthAdjust="spacingAndGlyphs">Time Delay (ps)</text>
<text transform="translate(8.4,114.3) rotate(-90)" text-anchor="middle">Amplitude (pA)</text>
<text x="27.90" y="69.80" text-anchor="start" textLength="19.4" lengthAdjust="spacingAndGlyphs">×1.5</text>
<text x="150.90" y="38.00" text-anchor="start" textLength="47.8" lengthAdjust="spacingAndGlyphs"><tspan font-style="italic">n</tspan>-type InSb</text>
<text x="113.00" y="57.60" text-anchor="start" textLength="93.2" lengthAdjust="spacingAndGlyphs">Pump Power: 90 mW</text>
<text x="128.20" y="68.80" text-anchor="start" textLength="76" lengthAdjust="spacingAndGlyphs"><tspan font-style="italic">Δn</tspan>: 5.5×10<tspan font-size="6.6" dy="-5.2">18</tspan><tspan dy="5.2"> cm</tspan><tspan font-size="6.6" dy="-5.2">-3</tspan></text>
<text x="141.30" y="144.30" text-anchor="start" textLength="58.2" lengthAdjust="spacingAndGlyphs">undoped InSb</text>
<text x="113.00" y="167.20" text-anchor="start" textLength="93.2" lengthAdjust="spacingAndGlyphs">Pump Power: 90 mW</text>
<text x="128.20" y="178.40" text-anchor="start" textLength="76" lengthAdjust="spacingAndGlyphs"><tspan font-style="italic">Δn</tspan>: 5.5×10<tspan font-size="6.6" dy="-5.2">18</tspan><tspan dy="5.2"> cm</tspan><tspan font-size="6.6" dy="-5.2">-3</tspan></text>
<text x="254.60" y="209.90" text-anchor="end">0</text>
<text x="254.60" y="191.50" text-anchor="end">0.5</text>
<text x="254.60" y="173.10" text-anchor="end">1.0</text>
<text x="254.60" y="154.70" text-anchor="end">1.5</text>
<text x="254.60" y="136.30" text-anchor="end">2.0</text>
<text x="254.60" y="117.90" text-anchor="end">2.5</text>
<text x="254.60" y="99.50" text-anchor="end">3.0</text>
<text x="254.60" y="81.10" text-anchor="end">3.5</text>
<text x="254.60" y="62.70" text-anchor="end">4.0</text>
<text x="254.60" y="44.30" text-anchor="end">4.5</text>
<text x="254.60" y="25.90" text-anchor="end">5.0</text>
<text x="257.10" y="220.60" text-anchor="middle">0</text>
<text x="280.28" y="220.60" text-anchor="middle">1</text>
<text x="303.46" y="220.60" text-anchor="middle">2</text>
<text x="326.64" y="220.60" text-anchor="middle">3</text>
<text x="349.82" y="220.60" text-anchor="middle">4</text>
<text x="373.00" y="220.60" text-anchor="middle">5</text>
<text x="396.18" y="220.60" text-anchor="middle">6</text>
<text x="419.36" y="220.60" text-anchor="middle">7</text>
<text x="442.54" y="220.60" text-anchor="middle">8</text>
<text x="351.50" y="231.80" text-anchor="middle" textLength="73.2" lengthAdjust="spacingAndGlyphs">Frequency (THz)</text>
<text transform="translate(237.1,114.9) rotate(-90)" text-anchor="middle" textLength="88" lengthAdjust="spacingAndGlyphs">Intensity (arb. units)</text>
<text x="264.10" y="34.50" text-anchor="start" textLength="30.6" lengthAdjust="spacingAndGlyphs">Power:</text>
<text x="264.10" y="45.80" text-anchor="start" textLength="31.9" lengthAdjust="spacingAndGlyphs">90 mW</text>
<text x="264.10" y="67.50" text-anchor="start" textLength="29.4" lengthAdjust="spacingAndGlyphs"><tspan font-style="italic">n</tspan>-InSb</text>
<text x="279.40" y="102.20" text-anchor="start">×2</text>
<text x="354.60" y="65.00" text-anchor="start" textLength="28.2" lengthAdjust="spacingAndGlyphs">Lower</text>
<text x="400.10" y="44.20" text-anchor="start">Upper</text>
<text x="267.30" y="125.00" text-anchor="start">undope InSb</text>
<text x="267.20" y="135.60" text-anchor="start" textLength="107.4" lengthAdjust="spacingAndGlyphs">the photo-Dember Effect</text>
<text x="374.80" y="180.80" text-anchor="start" textLength="34.8" lengthAdjust="spacingAndGlyphs">InSb LO</text>
</g>
</svg>
</body></html>
